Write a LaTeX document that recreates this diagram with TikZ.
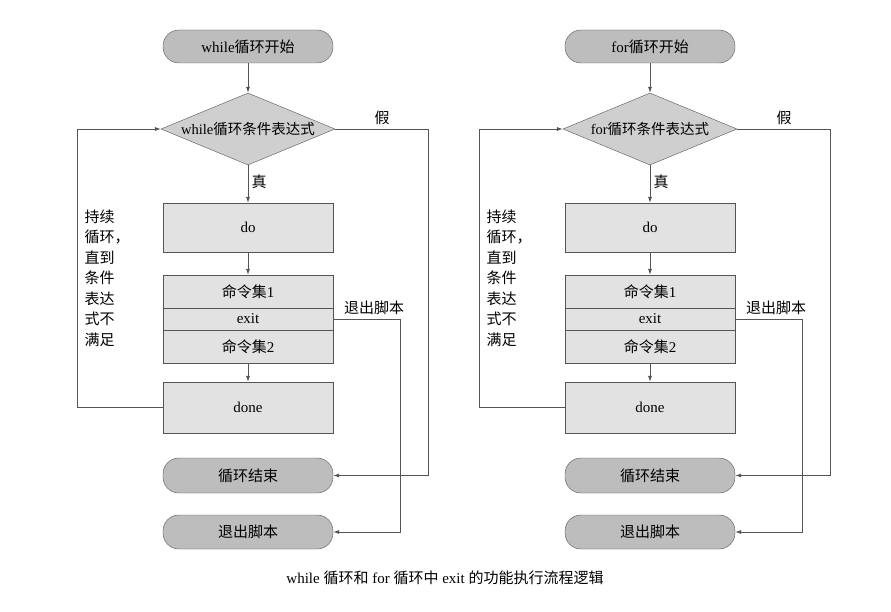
\documentclass[tikz,border=0pt]{standalone}
\usepackage{fontspec}
\setmainfont{Liberation Serif}
\newfontfamily\cjk{Noto Sans CJK SC}
\usetikzlibrary{shapes.geometric,arrows.meta}
\definecolor{term}{HTML}{BDBDBD}
\definecolor{boxf}{HTML}{E2E2E2}
\definecolor{dia}{HTML}{CFCFCF}
\definecolor{ln}{HTML}{555555}
\tikzset{
 term/.style={draw=ln,fill=term,rounded corners=16pt,minimum width=170pt,minimum height=33pt,font=\fontsize{15}{17}\selectfont},
 boxn/.style={draw=ln,fill=boxf,minimum width=170pt,font=\fontsize{15}{17}\selectfont},
 dian/.style={draw=ln,fill=dia,diamond,aspect=2.4,minimum width=174pt,minimum height=72pt,inner sep=0pt,font=\fontsize{14.5}{17}\selectfont},
 conn/.style={draw=ln,line width=0.7pt,-{Latex[length=6pt,width=4pt]}},
 lbl/.style={font=\fontsize{15}{17}\selectfont\cjk}
}
\begin{document}
\begin{tikzpicture}[x=1pt,y=-1pt]
\useasboundingbox[fill=white] (0,0) rectangle (891,612);
\foreach \o/\k/\kw in {0/L/while,402/R/for}{
 \begin{scope}[xshift=\o]
 \node[term] (s\k) at (248,46.5) {\kw{\cjk 循环开始}};
 \node[dian] (d\k) at (248,129) {\kw{\cjk 循环条件表达式}};
 \node[boxn,minimum height=49pt] (do\k) at (248,227.5) {do};
 \node[boxn,minimum height=33pt] (c1\k) at (248,291.5) {{\cjk 命令集}1};
 \node[boxn,minimum height=22pt] (ex\k) at (248,319) {exit};
 \node[boxn,minimum height=33pt] (c2\k) at (248,346.5) {{\cjk 命令集}2};
 \node[boxn,minimum height=51pt] (dn\k) at (248,407.5) {done};
 \node[term,minimum height=35pt] (e\k) at (248,475.5) {{\cjk 循环结束}};
 \node[term,minimum height=34pt] (x\k) at (248,532) {{\cjk 退出脚本}};
 \coordinate (l1\k) at (77,407.5);
 \coordinate (l2\k) at (77,129);
 \coordinate (r1\k) at (428,129);
 \coordinate (r2\k) at (428,475.5);
 \coordinate (q1\k) at (400,319);
 \coordinate (q2\k) at (400,532);
 \draw[conn] (s\k) -- (d\k);
 \draw[conn] (d\k) -- node[lbl,right,pos=0.45]{真} (do\k);
 \draw[conn] (do\k) -- (c1\k);
 \draw[conn] (c2\k) -- (dn\k);
 \draw[conn] (dn\k.west) -- (l1\k) -- (l2\k) -- (d\k.west);
 \draw[conn] (d\k.east) -- (r1\k) -- (r2\k) -- (e\k.east);
 \draw[conn] (ex\k.east) -- (q1\k) -- (q2\k) -- (x\k.east);
 \node[lbl] (t1\k) at (382,118) {假};
 \node[lbl] (t2\k) at (374,308) {退出脚本};
 \node[lbl,align=left,anchor=north west,font=\fontsize{15}{20.5}\selectfont\cjk] (t3\k) at (81,206) {持续\\循环，\\直到\\条件\\表达\\式不\\满足};
 \end{scope}
}
\node[font=\fontsize{15}{17}\selectfont] (cap) at (445,578) {while {\cjk 循环和} for {\cjk 循环中} exit {\cjk 的功能执行流程逻辑}};
\end{tikzpicture}
\end{document}
